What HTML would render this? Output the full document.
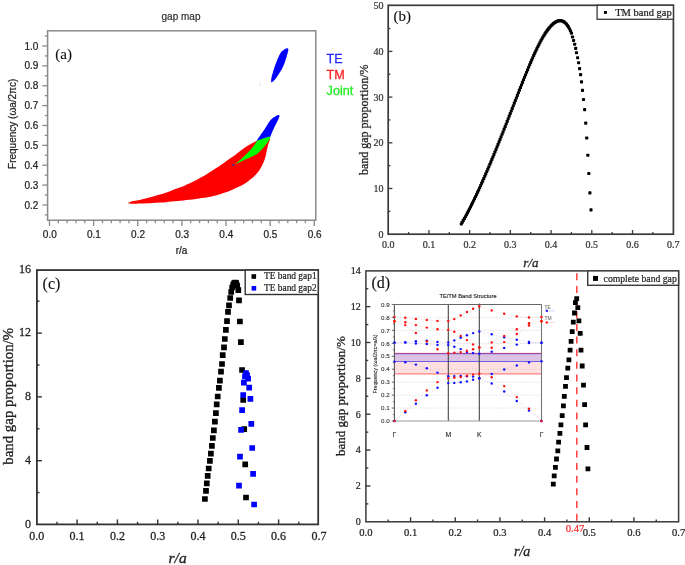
<!DOCTYPE html>
<html><head><meta charset="utf-8"><title>gap map</title>
<style>
html,body{margin:0;padding:0;background:#fff;overflow:hidden}
svg{display:block}
text{white-space:pre}
</style></head>
<body>
<svg width="685" height="565" viewBox="0 0 685 565">
<rect width="685" height="565" fill="#fff"/>
<text x="181" y="20.1" font-size="10" font-family="'Liberation Sans', Arial, sans-serif" fill="#333" stroke="#333" stroke-width="0.22" text-anchor="middle" >gap map</text>
<path d="M127.9 202.9C128.38 202.7 129.33 202.08 130.8 201.7C132.27 201.32 134.75 201.02 136.7 200.6C138.65 200.18 140.55 199.67 142.5 199.2C144.45 198.73 146.45 198.3 148.4 197.8C150.35 197.3 152.27 196.73 154.2 196.2C156.13 195.67 158.07 195.17 160 194.6C161.93 194.03 163.85 193.48 165.8 192.8C167.75 192.12 169.75 191.25 171.7 190.5C173.65 189.75 175.55 189.02 177.5 188.3C179.45 187.58 181.45 186.98 183.4 186.2C185.35 185.42 187.27 184.5 189.2 183.6C191.13 182.7 193.07 181.8 195 180.8C196.93 179.8 198.85 178.7 200.8 177.6C202.75 176.5 204.75 175.38 206.7 174.2C208.65 173.02 210.55 171.73 212.5 170.5C214.45 169.27 216.45 168.08 218.4 166.8C220.35 165.52 222.27 164.17 224.2 162.8C226.13 161.43 228.02 160.03 230 158.6C231.98 157.17 234.05 155.7 236.1 154.2C238.15 152.7 240.25 151.08 242.3 149.6C244.35 148.12 246.37 146.58 248.4 145.3C250.43 144.02 252.9 142.72 254.5 141.9C256.1 141.08 256.58 140.8 258 140.4C259.42 140 261.23 139.73 263 139.5C264.77 139.27 267.4 139.05 268.6 139C269.8 138.95 269.93 139.17 270.2 139.2C270.15 139.33 270.27 138.98 269.9 140C269.53 141.02 268.52 143.5 268 145.3C267.48 147.1 267.2 148.97 266.8 150.8C266.4 152.63 266.02 154.7 265.6 156.3C265.18 157.9 264.8 159.08 264.3 160.4C263.8 161.72 263.15 163.03 262.6 164.2C262.05 165.37 261.57 166.37 261 167.4C260.43 168.43 259.9 169.37 259.2 170.4C258.5 171.43 257.7 172.55 256.8 173.6C255.9 174.65 254.9 175.7 253.8 176.7C252.7 177.7 251.3 178.73 250.2 179.6C249.1 180.47 248.35 181.1 247.2 181.9C246.05 182.7 244.7 183.6 243.3 184.4C241.9 185.2 240.28 185.98 238.8 186.7C237.32 187.42 235.87 188.03 234.4 188.7C232.93 189.37 231.57 190.05 230 190.7C228.43 191.35 226.8 191.97 225 192.6C223.2 193.23 221.13 193.93 219.2 194.5C217.27 195.07 215.35 195.55 213.4 196C211.45 196.45 209.45 196.85 207.5 197.2C205.55 197.55 203.65 197.82 201.7 198.1C199.75 198.38 197.88 198.63 195.8 198.9C193.72 199.17 191.27 199.45 189.2 199.7C187.13 199.95 185.35 200.18 183.4 200.4C181.45 200.62 179.45 200.8 177.5 201C175.55 201.2 173.65 201.4 171.7 201.6C169.75 201.8 167.75 202.03 165.8 202.2C163.85 202.37 162.23 202.47 160 202.6C157.77 202.73 155.32 202.83 152.4 203C149.48 203.17 145.57 203.48 142.5 203.6C139.43 203.72 136.17 203.73 134 203.7C131.83 203.67 130.52 203.53 129.5 203.4C128.48 203.27 128.17 202.98 127.9 202.9Z" fill="#ff0000"/>
<path d="M256.6 141.2C256.73 140.93 256.67 140.75 257.4 139.6C258.13 138.45 259.75 136.12 261 134.3C262.25 132.48 263.72 130.52 264.9 128.7C266.08 126.88 267.12 124.88 268.1 123.4C269.08 121.92 269.77 120.87 270.8 119.8C271.83 118.73 273.17 117.77 274.3 117C275.43 116.23 276.82 115.53 277.6 115.2C278.38 114.87 278.77 115.03 279 115C279.07 115.23 279.75 115.18 279.4 116.4C279.05 117.62 277.85 120.25 276.9 122.3C275.95 124.35 274.75 126.43 273.7 128.7C272.65 130.97 271.23 134.25 270.6 135.9C269.97 137.55 270.02 138.15 269.9 138.6Z" fill="#0000ff"/>
<circle cx="233.3" cy="165.1" r="1" fill="#3030c0"/>
<path d="M233.1 165.1C233.82 164.62 235.87 163.38 237.4 162.2C238.93 161.02 240.47 159.7 242.3 158C244.13 156.3 246.57 153.92 248.4 152C250.23 150.08 251.93 148.27 253.3 146.5C254.67 144.73 255.93 142.42 256.6 141.4C257.27 140.38 257.18 140.57 257.3 140.4L269.2 136.4L270.2 137.6C270.1 137.87 270.17 138.2 269.6 139.2C269.03 140.2 267.8 142.2 266.8 143.6C265.8 145 264.62 146.43 263.6 147.6C262.58 148.77 261.68 149.63 260.7 150.6C259.72 151.57 258.73 152.62 257.7 153.4C256.67 154.18 256.05 154.48 254.5 155.3C252.95 156.12 250.43 157.37 248.4 158.3C246.37 159.23 244.13 160.08 242.3 160.9C240.47 161.72 238.93 162.5 237.4 163.2C235.87 163.9 233.82 164.78 233.1 165.1Z" fill="#00ff00"/>
<circle cx="260" cy="84.6" r="1.1" fill="#d4f4d4"/>
<path d="M271.1 82.4C271.15 81.67 271.03 79.9 271.4 78C271.77 76.1 272.47 73.65 273.3 71C274.13 68.35 275.25 65 276.4 62.1C277.55 59.2 279.02 55.6 280.2 53.6C281.38 51.6 282.45 50.98 283.5 50.1C284.55 49.22 285.75 48.57 286.5 48.3C287.25 48.03 287.75 48.47 288 48.5C288.05 48.78 288.6 48.62 288.3 50.2C288 51.78 287.08 55.23 286.2 58C285.32 60.77 284.33 63.97 283 66.8C281.67 69.63 279.77 72.63 278.2 75C276.63 77.37 274.78 79.77 273.6 81C272.42 82.23 271.52 82.17 271.1 82.4Z" fill="#0000ff"/>
<rect x="47.6" y="30.8" width="268.2" height="189.4" fill="none" stroke="#8a8a8a" stroke-width="1.5"/>
<line x1="42.3" y1="204.96" x2="47.6" y2="204.96" stroke="#8a8a8a" stroke-width="1.3" />
<text x="38.3" y="208.56" font-size="10" font-family="'Liberation Sans', Arial, sans-serif" fill="#222" stroke="#222" stroke-width="0.22" text-anchor="end" >0.2</text>
<line x1="42.3" y1="185.09" x2="47.6" y2="185.09" stroke="#8a8a8a" stroke-width="1.3" />
<text x="38.3" y="188.69" font-size="10" font-family="'Liberation Sans', Arial, sans-serif" fill="#222" stroke="#222" stroke-width="0.22" text-anchor="end" >0.3</text>
<line x1="42.3" y1="165.22" x2="47.6" y2="165.22" stroke="#8a8a8a" stroke-width="1.3" />
<text x="38.3" y="168.82" font-size="10" font-family="'Liberation Sans', Arial, sans-serif" fill="#222" stroke="#222" stroke-width="0.22" text-anchor="end" >0.4</text>
<line x1="42.3" y1="145.35" x2="47.6" y2="145.35" stroke="#8a8a8a" stroke-width="1.3" />
<text x="38.3" y="148.95" font-size="10" font-family="'Liberation Sans', Arial, sans-serif" fill="#222" stroke="#222" stroke-width="0.22" text-anchor="end" >0.5</text>
<line x1="42.3" y1="125.48" x2="47.6" y2="125.48" stroke="#8a8a8a" stroke-width="1.3" />
<text x="38.3" y="129.08" font-size="10" font-family="'Liberation Sans', Arial, sans-serif" fill="#222" stroke="#222" stroke-width="0.22" text-anchor="end" >0.6</text>
<line x1="42.3" y1="105.61" x2="47.6" y2="105.61" stroke="#8a8a8a" stroke-width="1.3" />
<text x="38.3" y="109.21" font-size="10" font-family="'Liberation Sans', Arial, sans-serif" fill="#222" stroke="#222" stroke-width="0.22" text-anchor="end" >0.7</text>
<line x1="42.3" y1="85.74" x2="47.6" y2="85.74" stroke="#8a8a8a" stroke-width="1.3" />
<text x="38.3" y="89.34" font-size="10" font-family="'Liberation Sans', Arial, sans-serif" fill="#222" stroke="#222" stroke-width="0.22" text-anchor="end" >0.8</text>
<line x1="42.3" y1="65.87" x2="47.6" y2="65.87" stroke="#8a8a8a" stroke-width="1.3" />
<text x="38.3" y="69.47" font-size="10" font-family="'Liberation Sans', Arial, sans-serif" fill="#222" stroke="#222" stroke-width="0.22" text-anchor="end" >0.9</text>
<line x1="42.3" y1="46" x2="47.6" y2="46" stroke="#8a8a8a" stroke-width="1.3" />
<text x="38.3" y="49.6" font-size="10" font-family="'Liberation Sans', Arial, sans-serif" fill="#222" stroke="#222" stroke-width="0.22" text-anchor="end" >1.0</text>
<line x1="44.8" y1="214.89" x2="47.6" y2="214.89" stroke="#8a8a8a" stroke-width="1.3" />
<line x1="44.8" y1="195.02" x2="47.6" y2="195.02" stroke="#8a8a8a" stroke-width="1.3" />
<line x1="44.8" y1="175.16" x2="47.6" y2="175.16" stroke="#8a8a8a" stroke-width="1.3" />
<line x1="44.8" y1="155.28" x2="47.6" y2="155.28" stroke="#8a8a8a" stroke-width="1.3" />
<line x1="44.8" y1="135.41" x2="47.6" y2="135.41" stroke="#8a8a8a" stroke-width="1.3" />
<line x1="44.8" y1="115.54" x2="47.6" y2="115.54" stroke="#8a8a8a" stroke-width="1.3" />
<line x1="44.8" y1="95.67" x2="47.6" y2="95.67" stroke="#8a8a8a" stroke-width="1.3" />
<line x1="44.8" y1="75.8" x2="47.6" y2="75.8" stroke="#8a8a8a" stroke-width="1.3" />
<line x1="44.8" y1="55.93" x2="47.6" y2="55.93" stroke="#8a8a8a" stroke-width="1.3" />
<line x1="44.8" y1="36.06" x2="47.6" y2="36.06" stroke="#8a8a8a" stroke-width="1.3" />
<line x1="49.5" y1="220.2" x2="49.5" y2="226" stroke="#8a8a8a" stroke-width="1.3" />
<text x="49.8" y="237.6" font-size="10" font-family="'Liberation Sans', Arial, sans-serif" fill="#222" stroke="#222" stroke-width="0.22" text-anchor="middle" >0.0</text>
<line x1="93.63" y1="220.2" x2="93.63" y2="226" stroke="#8a8a8a" stroke-width="1.3" />
<text x="93.93" y="237.6" font-size="10" font-family="'Liberation Sans', Arial, sans-serif" fill="#222" stroke="#222" stroke-width="0.22" text-anchor="middle" >0.1</text>
<line x1="137.76" y1="220.2" x2="137.76" y2="226" stroke="#8a8a8a" stroke-width="1.3" />
<text x="138.06" y="237.6" font-size="10" font-family="'Liberation Sans', Arial, sans-serif" fill="#222" stroke="#222" stroke-width="0.22" text-anchor="middle" >0.2</text>
<line x1="181.89" y1="220.2" x2="181.89" y2="226" stroke="#8a8a8a" stroke-width="1.3" />
<text x="182.19" y="237.6" font-size="10" font-family="'Liberation Sans', Arial, sans-serif" fill="#222" stroke="#222" stroke-width="0.22" text-anchor="middle" >0.3</text>
<line x1="226.02" y1="220.2" x2="226.02" y2="226" stroke="#8a8a8a" stroke-width="1.3" />
<text x="226.32" y="237.6" font-size="10" font-family="'Liberation Sans', Arial, sans-serif" fill="#222" stroke="#222" stroke-width="0.22" text-anchor="middle" >0.4</text>
<line x1="270.15" y1="220.2" x2="270.15" y2="226" stroke="#8a8a8a" stroke-width="1.3" />
<text x="270.45" y="237.6" font-size="10" font-family="'Liberation Sans', Arial, sans-serif" fill="#222" stroke="#222" stroke-width="0.22" text-anchor="middle" >0.5</text>
<line x1="314.28" y1="220.2" x2="314.28" y2="226" stroke="#8a8a8a" stroke-width="1.3" />
<text x="314.58" y="237.6" font-size="10" font-family="'Liberation Sans', Arial, sans-serif" fill="#222" stroke="#222" stroke-width="0.22" text-anchor="middle" >0.6</text>
<line x1="58.33" y1="220.2" x2="58.33" y2="223.2" stroke="#8a8a8a" stroke-width="1.3" />
<line x1="67.15" y1="220.2" x2="67.15" y2="223.2" stroke="#8a8a8a" stroke-width="1.3" />
<line x1="75.98" y1="220.2" x2="75.98" y2="223.2" stroke="#8a8a8a" stroke-width="1.3" />
<line x1="84.8" y1="220.2" x2="84.8" y2="223.2" stroke="#8a8a8a" stroke-width="1.3" />
<line x1="102.46" y1="220.2" x2="102.46" y2="223.2" stroke="#8a8a8a" stroke-width="1.3" />
<line x1="111.28" y1="220.2" x2="111.28" y2="223.2" stroke="#8a8a8a" stroke-width="1.3" />
<line x1="120.11" y1="220.2" x2="120.11" y2="223.2" stroke="#8a8a8a" stroke-width="1.3" />
<line x1="128.93" y1="220.2" x2="128.93" y2="223.2" stroke="#8a8a8a" stroke-width="1.3" />
<line x1="146.59" y1="220.2" x2="146.59" y2="223.2" stroke="#8a8a8a" stroke-width="1.3" />
<line x1="155.41" y1="220.2" x2="155.41" y2="223.2" stroke="#8a8a8a" stroke-width="1.3" />
<line x1="164.24" y1="220.2" x2="164.24" y2="223.2" stroke="#8a8a8a" stroke-width="1.3" />
<line x1="173.06" y1="220.2" x2="173.06" y2="223.2" stroke="#8a8a8a" stroke-width="1.3" />
<line x1="190.72" y1="220.2" x2="190.72" y2="223.2" stroke="#8a8a8a" stroke-width="1.3" />
<line x1="199.54" y1="220.2" x2="199.54" y2="223.2" stroke="#8a8a8a" stroke-width="1.3" />
<line x1="208.37" y1="220.2" x2="208.37" y2="223.2" stroke="#8a8a8a" stroke-width="1.3" />
<line x1="217.19" y1="220.2" x2="217.19" y2="223.2" stroke="#8a8a8a" stroke-width="1.3" />
<line x1="234.85" y1="220.2" x2="234.85" y2="223.2" stroke="#8a8a8a" stroke-width="1.3" />
<line x1="243.67" y1="220.2" x2="243.67" y2="223.2" stroke="#8a8a8a" stroke-width="1.3" />
<line x1="252.5" y1="220.2" x2="252.5" y2="223.2" stroke="#8a8a8a" stroke-width="1.3" />
<line x1="261.32" y1="220.2" x2="261.32" y2="223.2" stroke="#8a8a8a" stroke-width="1.3" />
<line x1="278.98" y1="220.2" x2="278.98" y2="223.2" stroke="#8a8a8a" stroke-width="1.3" />
<line x1="287.8" y1="220.2" x2="287.8" y2="223.2" stroke="#8a8a8a" stroke-width="1.3" />
<line x1="296.63" y1="220.2" x2="296.63" y2="223.2" stroke="#8a8a8a" stroke-width="1.3" />
<line x1="305.45" y1="220.2" x2="305.45" y2="223.2" stroke="#8a8a8a" stroke-width="1.3" />
<text x="181.6" y="253.6" font-size="10" font-family="'Liberation Sans', Arial, sans-serif" fill="#222" stroke="#222" stroke-width="0.22" text-anchor="middle" >r/a</text>
<text x="0" y="0" font-size="10" font-family="'Liberation Sans', Arial, sans-serif" fill="#222" stroke="#222" stroke-width="0.22" text-anchor="middle" transform="translate(16.2,123.8) rotate(-90)">Frequency (ωa/2πc)</text>
<text x="55.3" y="59.1" font-size="15" font-family="'Liberation Serif', 'Times New Roman', serif" fill="#111" stroke="#111" stroke-width="0.12" text-anchor="start" >(a)</text>
<text x="326.6" y="63.1" font-size="12.6" font-family="'Liberation Sans', Arial, sans-serif" fill="#2323ff" stroke="#2323ff" stroke-width="0.28" text-anchor="start" >TE</text>
<text x="326.6" y="78.8" font-size="12.6" font-family="'Liberation Sans', Arial, sans-serif" fill="#ff2020" stroke="#ff2020" stroke-width="0.28" text-anchor="start" >TM</text>
<text x="326.6" y="94.7" font-size="12.6" font-family="'Liberation Sans', Arial, sans-serif" fill="#22ee22" stroke="#22ee22" stroke-width="0.28" text-anchor="start" >Joint</text>
<g fill="#000"><rect x="459.75" y="222.4" width="3.1" height="3.1" rx="0.7"/><rect x="460.77" y="220.63" width="3.1" height="3.1" rx="0.7"/><rect x="461.79" y="218.83" width="3.1" height="3.1" rx="0.7"/><rect x="462.81" y="217" width="3.1" height="3.1" rx="0.7"/><rect x="463.83" y="215.14" width="3.1" height="3.1" rx="0.7"/><rect x="464.85" y="213.25" width="3.1" height="3.1" rx="0.7"/><rect x="465.87" y="211.33" width="3.1" height="3.1" rx="0.7"/><rect x="466.89" y="209.38" width="3.1" height="3.1" rx="0.7"/><rect x="467.91" y="207.4" width="3.1" height="3.1" rx="0.7"/><rect x="468.93" y="205.39" width="3.1" height="3.1" rx="0.7"/><rect x="469.95" y="203.35" width="3.1" height="3.1" rx="0.7"/><rect x="470.97" y="201.29" width="3.1" height="3.1" rx="0.7"/><rect x="471.99" y="199.2" width="3.1" height="3.1" rx="0.7"/><rect x="473.01" y="197.09" width="3.1" height="3.1" rx="0.7"/><rect x="474.03" y="194.95" width="3.1" height="3.1" rx="0.7"/><rect x="475.05" y="192.78" width="3.1" height="3.1" rx="0.7"/><rect x="476.07" y="190.59" width="3.1" height="3.1" rx="0.7"/><rect x="477.09" y="188.38" width="3.1" height="3.1" rx="0.7"/><rect x="478.11" y="186.15" width="3.1" height="3.1" rx="0.7"/><rect x="479.13" y="183.9" width="3.1" height="3.1" rx="0.7"/><rect x="480.15" y="181.62" width="3.1" height="3.1" rx="0.7"/><rect x="481.17" y="179.33" width="3.1" height="3.1" rx="0.7"/><rect x="482.19" y="177.01" width="3.1" height="3.1" rx="0.7"/><rect x="483.21" y="174.68" width="3.1" height="3.1" rx="0.7"/><rect x="484.23" y="172.33" width="3.1" height="3.1" rx="0.7"/><rect x="485.25" y="169.96" width="3.1" height="3.1" rx="0.7"/><rect x="486.27" y="167.57" width="3.1" height="3.1" rx="0.7"/><rect x="487.29" y="165.16" width="3.1" height="3.1" rx="0.7"/><rect x="488.31" y="162.74" width="3.1" height="3.1" rx="0.7"/><rect x="489.33" y="160.31" width="3.1" height="3.1" rx="0.7"/><rect x="490.35" y="157.86" width="3.1" height="3.1" rx="0.7"/><rect x="491.37" y="155.4" width="3.1" height="3.1" rx="0.7"/><rect x="492.39" y="152.92" width="3.1" height="3.1" rx="0.7"/><rect x="493.41" y="150.43" width="3.1" height="3.1" rx="0.7"/><rect x="494.43" y="147.93" width="3.1" height="3.1" rx="0.7"/><rect x="495.45" y="145.42" width="3.1" height="3.1" rx="0.7"/><rect x="496.47" y="142.89" width="3.1" height="3.1" rx="0.7"/><rect x="497.49" y="140.36" width="3.1" height="3.1" rx="0.7"/><rect x="498.51" y="137.82" width="3.1" height="3.1" rx="0.7"/><rect x="499.53" y="135.27" width="3.1" height="3.1" rx="0.7"/><rect x="500.55" y="132.71" width="3.1" height="3.1" rx="0.7"/><rect x="501.57" y="130.14" width="3.1" height="3.1" rx="0.7"/><rect x="502.59" y="127.57" width="3.1" height="3.1" rx="0.7"/><rect x="503.61" y="124.99" width="3.1" height="3.1" rx="0.7"/><rect x="504.63" y="122.4" width="3.1" height="3.1" rx="0.7"/><rect x="505.65" y="119.81" width="3.1" height="3.1" rx="0.7"/><rect x="506.67" y="117.22" width="3.1" height="3.1" rx="0.7"/><rect x="507.69" y="114.62" width="3.1" height="3.1" rx="0.7"/><rect x="508.71" y="112.02" width="3.1" height="3.1" rx="0.7"/><rect x="509.73" y="109.42" width="3.1" height="3.1" rx="0.7"/><rect x="510.75" y="106.82" width="3.1" height="3.1" rx="0.7"/><rect x="511.77" y="104.21" width="3.1" height="3.1" rx="0.7"/><rect x="512.79" y="101.61" width="3.1" height="3.1" rx="0.7"/><rect x="513.81" y="99" width="3.1" height="3.1" rx="0.7"/><rect x="514.83" y="96.4" width="3.1" height="3.1" rx="0.7"/><rect x="515.85" y="93.79" width="3.1" height="3.1" rx="0.7"/><rect x="516.87" y="91.19" width="3.1" height="3.1" rx="0.7"/><rect x="517.89" y="88.6" width="3.1" height="3.1" rx="0.7"/><rect x="518.91" y="86" width="3.1" height="3.1" rx="0.7"/><rect x="519.93" y="83.42" width="3.1" height="3.1" rx="0.7"/><rect x="520.95" y="80.84" width="3.1" height="3.1" rx="0.7"/><rect x="521.97" y="78.27" width="3.1" height="3.1" rx="0.7"/><rect x="522.99" y="75.71" width="3.1" height="3.1" rx="0.7"/><rect x="524.01" y="73.18" width="3.1" height="3.1" rx="0.7"/><rect x="525.03" y="70.66" width="3.1" height="3.1" rx="0.7"/><rect x="526.05" y="68.16" width="3.1" height="3.1" rx="0.7"/><rect x="527.07" y="65.7" width="3.1" height="3.1" rx="0.7"/><rect x="528.09" y="63.26" width="3.1" height="3.1" rx="0.7"/><rect x="529.11" y="60.85" width="3.1" height="3.1" rx="0.7"/><rect x="530.13" y="58.48" width="3.1" height="3.1" rx="0.7"/><rect x="531.15" y="56.15" width="3.1" height="3.1" rx="0.7"/><rect x="532.17" y="53.86" width="3.1" height="3.1" rx="0.7"/><rect x="533.19" y="51.62" width="3.1" height="3.1" rx="0.7"/><rect x="534.21" y="49.42" width="3.1" height="3.1" rx="0.7"/><rect x="535.23" y="47.28" width="3.1" height="3.1" rx="0.7"/><rect x="536.25" y="45.18" width="3.1" height="3.1" rx="0.7"/><rect x="537.27" y="43.15" width="3.1" height="3.1" rx="0.7"/><rect x="538.29" y="41.17" width="3.1" height="3.1" rx="0.7"/><rect x="539.31" y="39.26" width="3.1" height="3.1" rx="0.7"/><rect x="540.33" y="37.41" width="3.1" height="3.1" rx="0.7"/><rect x="541.35" y="35.64" width="3.1" height="3.1" rx="0.7"/><rect x="542.37" y="33.93" width="3.1" height="3.1" rx="0.7"/><rect x="543.39" y="32.3" width="3.1" height="3.1" rx="0.7"/><rect x="544.41" y="30.75" width="3.1" height="3.1" rx="0.7"/><rect x="545.43" y="29.28" width="3.1" height="3.1" rx="0.7"/><rect x="546.45" y="27.89" width="3.1" height="3.1" rx="0.7"/><rect x="547.47" y="26.59" width="3.1" height="3.1" rx="0.7"/><rect x="548.49" y="25.38" width="3.1" height="3.1" rx="0.7"/><rect x="549.51" y="24.26" width="3.1" height="3.1" rx="0.7"/><rect x="550.53" y="23.25" width="3.1" height="3.1" rx="0.7"/><rect x="551.55" y="22.33" width="3.1" height="3.1" rx="0.7"/><rect x="552.57" y="21.51" width="3.1" height="3.1" rx="0.7"/><rect x="553.59" y="20.8" width="3.1" height="3.1" rx="0.7"/><rect x="554.61" y="20.19" width="3.1" height="3.1" rx="0.7"/><rect x="555.63" y="19.71" width="3.1" height="3.1" rx="0.7"/><rect x="556.65" y="19.35" width="3.1" height="3.1" rx="0.7"/><rect x="557.67" y="19.14" width="3.1" height="3.1" rx="0.7"/><rect x="558.69" y="19.07" width="3.1" height="3.1" rx="0.7"/><rect x="559.71" y="19.17" width="3.1" height="3.1" rx="0.7"/><rect x="560.73" y="19.44" width="3.1" height="3.1" rx="0.7"/><rect x="561.75" y="19.9" width="3.1" height="3.1" rx="0.7"/><rect x="562.77" y="20.55" width="3.1" height="3.1" rx="0.7"/><rect x="563.79" y="21.42" width="3.1" height="3.1" rx="0.7"/><rect x="564.81" y="22.5" width="3.1" height="3.1" rx="0.7"/><rect x="565.83" y="23.81" width="3.1" height="3.1" rx="0.7"/><rect x="566.85" y="25.37" width="3.1" height="3.1" rx="0.7"/><rect x="567.87" y="27.18" width="3.1" height="3.1" rx="0.7"/><rect x="568.89" y="29.26" width="3.1" height="3.1" rx="0.7"/><rect x="569.91" y="31.62" width="3.1" height="3.1" rx="0.7"/><rect x="570.95" y="35.45" width="3.1" height="3.1" rx="0.7"/><rect x="572.05" y="38.95" width="3.1" height="3.1" rx="0.7"/><rect x="573.05" y="42.65" width="3.1" height="3.1" rx="0.7"/><rect x="574.15" y="46.85" width="3.1" height="3.1" rx="0.7"/><rect x="574.95" y="51.15" width="3.1" height="3.1" rx="0.7"/><rect x="576.05" y="56.15" width="3.1" height="3.1" rx="0.7"/><rect x="577.05" y="61.15" width="3.1" height="3.1" rx="0.7"/><rect x="578.05" y="67.05" width="3.1" height="3.1" rx="0.7"/><rect x="579.05" y="73.05" width="3.1" height="3.1" rx="0.7"/><rect x="579.95" y="80.35" width="3.1" height="3.1" rx="0.7"/><rect x="580.95" y="88.85" width="3.1" height="3.1" rx="0.7"/><rect x="581.95" y="97.95" width="3.1" height="3.1" rx="0.7"/><rect x="583.05" y="108.05" width="3.1" height="3.1" rx="0.7"/><rect x="584.15" y="121.55" width="3.1" height="3.1" rx="0.7"/><rect x="585.15" y="136.45" width="3.1" height="3.1" rx="0.7"/><rect x="586.25" y="153.65" width="3.1" height="3.1" rx="0.7"/><rect x="587.25" y="171.95" width="3.1" height="3.1" rx="0.7"/><rect x="588.35" y="191.35" width="3.1" height="3.1" rx="0.7"/><rect x="589.45" y="208.35" width="3.1" height="3.1" rx="0.7"/></g>
<rect x="388.2" y="5.3" width="285.2" height="228.9" fill="none" stroke="#3a3a3a" stroke-width="1.7"/>
<text x="383.6" y="237.6" font-size="10" font-family="'Liberation Serif', 'Times New Roman', serif" fill="#333" stroke="#333" stroke-width="0.22" text-anchor="end" >0</text>
<line x1="388.2" y1="188.5" x2="392.4" y2="188.5" stroke="#3a3a3a" stroke-width="1.3" />
<text x="383.6" y="191.9" font-size="10" font-family="'Liberation Serif', 'Times New Roman', serif" fill="#333" stroke="#333" stroke-width="0.22" text-anchor="end" >10</text>
<line x1="388.2" y1="142.8" x2="392.4" y2="142.8" stroke="#3a3a3a" stroke-width="1.3" />
<text x="383.6" y="146.2" font-size="10" font-family="'Liberation Serif', 'Times New Roman', serif" fill="#333" stroke="#333" stroke-width="0.22" text-anchor="end" >20</text>
<line x1="388.2" y1="97.1" x2="392.4" y2="97.1" stroke="#3a3a3a" stroke-width="1.3" />
<text x="383.6" y="100.5" font-size="10" font-family="'Liberation Serif', 'Times New Roman', serif" fill="#333" stroke="#333" stroke-width="0.22" text-anchor="end" >30</text>
<line x1="388.2" y1="51.4" x2="392.4" y2="51.4" stroke="#3a3a3a" stroke-width="1.3" />
<text x="383.6" y="54.8" font-size="10" font-family="'Liberation Serif', 'Times New Roman', serif" fill="#333" stroke="#333" stroke-width="0.22" text-anchor="end" >40</text>
<text x="383.6" y="9.1" font-size="10" font-family="'Liberation Serif', 'Times New Roman', serif" fill="#333" stroke="#333" stroke-width="0.22" text-anchor="end" >50</text>
<line x1="388.2" y1="211.35" x2="390.4" y2="211.35" stroke="#3a3a3a" stroke-width="1.3" />
<line x1="388.2" y1="165.65" x2="390.4" y2="165.65" stroke="#3a3a3a" stroke-width="1.3" />
<line x1="388.2" y1="119.95" x2="390.4" y2="119.95" stroke="#3a3a3a" stroke-width="1.3" />
<line x1="388.2" y1="74.25" x2="390.4" y2="74.25" stroke="#3a3a3a" stroke-width="1.3" />
<line x1="388.2" y1="28.55" x2="390.4" y2="28.55" stroke="#3a3a3a" stroke-width="1.3" />
<text x="388.2" y="248.4" font-size="10" font-family="'Liberation Serif', 'Times New Roman', serif" fill="#333" stroke="#333" stroke-width="0.22" text-anchor="middle" >0.0</text>
<line x1="428.92" y1="234.2" x2="428.92" y2="230" stroke="#3a3a3a" stroke-width="1.3" />
<text x="428.92" y="248.4" font-size="10" font-family="'Liberation Serif', 'Times New Roman', serif" fill="#333" stroke="#333" stroke-width="0.22" text-anchor="middle" >0.1</text>
<line x1="469.64" y1="234.2" x2="469.64" y2="230" stroke="#3a3a3a" stroke-width="1.3" />
<text x="469.64" y="248.4" font-size="10" font-family="'Liberation Serif', 'Times New Roman', serif" fill="#333" stroke="#333" stroke-width="0.22" text-anchor="middle" >0.2</text>
<line x1="510.36" y1="234.2" x2="510.36" y2="230" stroke="#3a3a3a" stroke-width="1.3" />
<text x="510.36" y="248.4" font-size="10" font-family="'Liberation Serif', 'Times New Roman', serif" fill="#333" stroke="#333" stroke-width="0.22" text-anchor="middle" >0.3</text>
<line x1="551.08" y1="234.2" x2="551.08" y2="230" stroke="#3a3a3a" stroke-width="1.3" />
<text x="551.08" y="248.4" font-size="10" font-family="'Liberation Serif', 'Times New Roman', serif" fill="#333" stroke="#333" stroke-width="0.22" text-anchor="middle" >0.4</text>
<line x1="591.8" y1="234.2" x2="591.8" y2="230" stroke="#3a3a3a" stroke-width="1.3" />
<text x="591.8" y="248.4" font-size="10" font-family="'Liberation Serif', 'Times New Roman', serif" fill="#333" stroke="#333" stroke-width="0.22" text-anchor="middle" >0.5</text>
<line x1="632.52" y1="234.2" x2="632.52" y2="230" stroke="#3a3a3a" stroke-width="1.3" />
<text x="632.52" y="248.4" font-size="10" font-family="'Liberation Serif', 'Times New Roman', serif" fill="#333" stroke="#333" stroke-width="0.22" text-anchor="middle" >0.6</text>
<text x="673.24" y="248.4" font-size="10" font-family="'Liberation Serif', 'Times New Roman', serif" fill="#333" stroke="#333" stroke-width="0.22" text-anchor="middle" >0.7</text>
<line x1="408.56" y1="234.2" x2="408.56" y2="232" stroke="#3a3a3a" stroke-width="1.3" />
<line x1="449.28" y1="234.2" x2="449.28" y2="232" stroke="#3a3a3a" stroke-width="1.3" />
<line x1="490" y1="234.2" x2="490" y2="232" stroke="#3a3a3a" stroke-width="1.3" />
<line x1="530.72" y1="234.2" x2="530.72" y2="232" stroke="#3a3a3a" stroke-width="1.3" />
<line x1="571.44" y1="234.2" x2="571.44" y2="232" stroke="#3a3a3a" stroke-width="1.3" />
<line x1="612.16" y1="234.2" x2="612.16" y2="232" stroke="#3a3a3a" stroke-width="1.3" />
<line x1="652.88" y1="234.2" x2="652.88" y2="232" stroke="#3a3a3a" stroke-width="1.3" />
<text x="530.9" y="266.5" font-size="13" font-family="'Liberation Serif', 'Times New Roman', serif" fill="#222" stroke="#222" stroke-width="0.29" text-anchor="middle" font-style="italic">r/a</text>
<text x="0" y="0" font-size="12" font-family="'Liberation Serif', 'Times New Roman', serif" fill="#222" stroke="#222" stroke-width="0.26" text-anchor="middle" transform="translate(367.9,119.7) rotate(-90)">band gap proportion/%</text>
<text x="393.6" y="20.6" font-size="15" font-family="'Liberation Serif', 'Times New Roman', serif" fill="#111" stroke="#111" stroke-width="0.12" text-anchor="start" >(b)</text>
<rect x="597.1" y="5.3" width="76.3" height="14" fill="#fff" stroke="#3a3a3a" stroke-width="1.3"/>
<rect x="604" y="11" width="2.9" height="2.9" fill="#000" />
<text x="615.2" y="15.9" font-size="10.5" font-family="'Liberation Serif', 'Times New Roman', serif" fill="#222" stroke="#222" stroke-width="0.23" text-anchor="start" >TM band gap</text>
<path d="M202.05 496.15h5.7v5.7h-5.7zM203.15 488.05h5.7v5.7h-5.7zM203.95 480.55h5.7v5.7h-5.7zM204.85 472.95h5.7v5.7h-5.7zM205.85 465.65h5.7v5.7h-5.7zM207.05 458.05h5.7v5.7h-5.7zM208.05 450.85h5.7v5.7h-5.7zM209.05 443.05h5.7v5.7h-5.7zM209.95 435.15h5.7v5.7h-5.7zM211.05 427.55h5.7v5.7h-5.7zM212.05 418.85h5.7v5.7h-5.7zM213.05 410.35h5.7v5.7h-5.7zM213.85 401.45h5.7v5.7h-5.7zM214.85 393.65h5.7v5.7h-5.7zM216.05 385.05h5.7v5.7h-5.7zM217.05 377.75h5.7v5.7h-5.7zM218.15 368.75h5.7v5.7h-5.7zM219.15 361.15h5.7v5.7h-5.7zM219.85 352.35h5.7v5.7h-5.7zM221.15 344.55h5.7v5.7h-5.7zM221.95 336.15h5.7v5.7h-5.7zM223.05 327.05h5.7v5.7h-5.7zM224.15 318.25h5.7v5.7h-5.7zM225.15 309.05h5.7v5.7h-5.7zM226.15 302.45h5.7v5.7h-5.7zM227.35 295.15h5.7v5.7h-5.7zM228.35 289.15h5.7v5.7h-5.7zM229.35 284.65h5.7v5.7h-5.7zM230.35 281.65h5.7v5.7h-5.7zM231.35 280.15h5.7v5.7h-5.7zM232.35 279.65h5.7v5.7h-5.7zM233.35 280.35h5.7v5.7h-5.7zM234.35 282.65h5.7v5.7h-5.7zM235.45 287.35h5.7v5.7h-5.7zM236.15 297.45h5.7v5.7h-5.7zM237.05 318.65h5.7v5.7h-5.7zM238.05 339.25h5.7v5.7h-5.7zM239.2 367.15h5.7v5.7h-5.7zM240.35 397.15h5.7v5.7h-5.7zM241.35 426.35h5.7v5.7h-5.7zM242.35 461.45h5.7v5.7h-5.7zM243.15 494.65h5.7v5.7h-5.7z" fill="#000"/>
<path d="M236.15 482.85h5.7v5.7h-5.7zM237.15 453.75h5.7v5.7h-5.7zM238.25 426.95h5.7v5.7h-5.7zM239.25 407.35h5.7v5.7h-5.7zM240.35 392.15h5.7v5.7h-5.7zM241.05 379.75h5.7v5.7h-5.7zM242.15 373.45h5.7v5.7h-5.7zM243.15 370.35h5.7v5.7h-5.7zM244.25 372.55h5.7v5.7h-5.7zM245.25 375.85h5.7v5.7h-5.7zM246.35 384.85h5.7v5.7h-5.7zM247.55 396.05h5.7v5.7h-5.7zM248.45 420.95h5.7v5.7h-5.7zM249.35 445.15h5.7v5.7h-5.7zM250.25 470.95h5.7v5.7h-5.7zM251.25 501.65h5.7v5.7h-5.7z" fill="#0000ff"/>
<rect x="36.9" y="270.1" width="281.3" height="254.3" fill="none" stroke="#333" stroke-width="1.8"/>
<text x="30.9" y="527.8" font-size="12" font-family="'Liberation Serif', 'Times New Roman', serif" fill="#222" stroke="#222" stroke-width="0.26" text-anchor="end" >0</text>
<line x1="36.9" y1="460.7" x2="41.9" y2="460.7" stroke="#333" stroke-width="1.4" />
<text x="30.9" y="464" font-size="12" font-family="'Liberation Serif', 'Times New Roman', serif" fill="#222" stroke="#222" stroke-width="0.26" text-anchor="end" >4</text>
<line x1="36.9" y1="396.9" x2="41.9" y2="396.9" stroke="#333" stroke-width="1.4" />
<text x="30.9" y="400.2" font-size="12" font-family="'Liberation Serif', 'Times New Roman', serif" fill="#222" stroke="#222" stroke-width="0.26" text-anchor="end" >8</text>
<line x1="36.9" y1="333.1" x2="41.9" y2="333.1" stroke="#333" stroke-width="1.4" />
<text x="30.9" y="336.4" font-size="12" font-family="'Liberation Serif', 'Times New Roman', serif" fill="#222" stroke="#222" stroke-width="0.26" text-anchor="end" >12</text>
<text x="30.9" y="272.6" font-size="12" font-family="'Liberation Serif', 'Times New Roman', serif" fill="#222" stroke="#222" stroke-width="0.26" text-anchor="end" >16</text>
<line x1="36.9" y1="492.6" x2="39.5" y2="492.6" stroke="#333" stroke-width="1.4" />
<line x1="36.9" y1="428.8" x2="39.5" y2="428.8" stroke="#333" stroke-width="1.4" />
<line x1="36.9" y1="365" x2="39.5" y2="365" stroke="#333" stroke-width="1.4" />
<line x1="36.9" y1="301.2" x2="39.5" y2="301.2" stroke="#333" stroke-width="1.4" />
<text x="36.8" y="539.8" font-size="12" font-family="'Liberation Serif', 'Times New Roman', serif" fill="#222" stroke="#222" stroke-width="0.26" text-anchor="middle" >0.0</text>
<line x1="77.1" y1="524.4" x2="77.1" y2="519.4" stroke="#333" stroke-width="1.4" />
<text x="77.1" y="539.8" font-size="12" font-family="'Liberation Serif', 'Times New Roman', serif" fill="#222" stroke="#222" stroke-width="0.26" text-anchor="middle" >0.1</text>
<line x1="117.4" y1="524.4" x2="117.4" y2="519.4" stroke="#333" stroke-width="1.4" />
<text x="117.4" y="539.8" font-size="12" font-family="'Liberation Serif', 'Times New Roman', serif" fill="#222" stroke="#222" stroke-width="0.26" text-anchor="middle" >0.2</text>
<line x1="157.7" y1="524.4" x2="157.7" y2="519.4" stroke="#333" stroke-width="1.4" />
<text x="157.7" y="539.8" font-size="12" font-family="'Liberation Serif', 'Times New Roman', serif" fill="#222" stroke="#222" stroke-width="0.26" text-anchor="middle" >0.3</text>
<line x1="198" y1="524.4" x2="198" y2="519.4" stroke="#333" stroke-width="1.4" />
<text x="198" y="539.8" font-size="12" font-family="'Liberation Serif', 'Times New Roman', serif" fill="#222" stroke="#222" stroke-width="0.26" text-anchor="middle" >0.4</text>
<line x1="238.3" y1="524.4" x2="238.3" y2="519.4" stroke="#333" stroke-width="1.4" />
<text x="238.3" y="539.8" font-size="12" font-family="'Liberation Serif', 'Times New Roman', serif" fill="#222" stroke="#222" stroke-width="0.26" text-anchor="middle" >0.5</text>
<line x1="278.6" y1="524.4" x2="278.6" y2="519.4" stroke="#333" stroke-width="1.4" />
<text x="278.6" y="539.8" font-size="12" font-family="'Liberation Serif', 'Times New Roman', serif" fill="#222" stroke="#222" stroke-width="0.26" text-anchor="middle" >0.6</text>
<text x="318.9" y="539.8" font-size="12" font-family="'Liberation Serif', 'Times New Roman', serif" fill="#222" stroke="#222" stroke-width="0.26" text-anchor="middle" >0.7</text>
<line x1="56.95" y1="524.4" x2="56.95" y2="521.8" stroke="#333" stroke-width="1.4" />
<line x1="97.25" y1="524.4" x2="97.25" y2="521.8" stroke="#333" stroke-width="1.4" />
<line x1="137.55" y1="524.4" x2="137.55" y2="521.8" stroke="#333" stroke-width="1.4" />
<line x1="177.85" y1="524.4" x2="177.85" y2="521.8" stroke="#333" stroke-width="1.4" />
<line x1="218.15" y1="524.4" x2="218.15" y2="521.8" stroke="#333" stroke-width="1.4" />
<line x1="258.45" y1="524.4" x2="258.45" y2="521.8" stroke="#333" stroke-width="1.4" />
<line x1="298.75" y1="524.4" x2="298.75" y2="521.8" stroke="#333" stroke-width="1.4" />
<text x="177.6" y="563.1" font-size="15.5" font-family="'Liberation Serif', 'Times New Roman', serif" fill="#222" stroke="#222" stroke-width="0.34" text-anchor="middle" font-style="italic">r/a</text>
<text x="0" y="0" font-size="14.85" font-family="'Liberation Serif', 'Times New Roman', serif" fill="#222" stroke="#222" stroke-width="0.33" text-anchor="start" transform="translate(12.7,464.7) rotate(-90)">band gap proportion/%</text>
<text x="42.6" y="289" font-size="16" font-family="'Liberation Serif', 'Times New Roman', serif" fill="#111" stroke="#111" stroke-width="0.12" text-anchor="start" >(c)</text>
<rect x="245.2" y="270.1" width="73" height="24.4" fill="#fff" stroke="#333" stroke-width="1.4"/>
<rect x="251.5" y="274.2" width="4.6" height="4.6" fill="#000" />
<rect x="251.6" y="286" width="4.6" height="4.6" fill="#0000ff" />
<text x="264" y="279.4" font-size="9.4" font-family="'Liberation Serif', 'Times New Roman', serif" fill="#222" stroke="#222" stroke-width="0.21" text-anchor="start" >TE band gap1</text>
<text x="264" y="290.8" font-size="9.4" font-family="'Liberation Serif', 'Times New Roman', serif" fill="#222" stroke="#222" stroke-width="0.21" text-anchor="start" >TE band gap2</text>
<rect x="394.4" y="352.3" width="147.1" height="21.5" fill="#ffe0e0"/>
<rect x="394.4" y="353.9" width="147.1" height="7.6" fill="#dcc3e4"/>
<line x1="394.4" y1="408.05" x2="541.5" y2="408.05" stroke="#c8c8c8" stroke-width="0.8" stroke-dasharray="1 2"/>
<line x1="394.4" y1="395.1" x2="541.5" y2="395.1" stroke="#c8c8c8" stroke-width="0.8" stroke-dasharray="1 2"/>
<line x1="394.4" y1="382.15" x2="541.5" y2="382.15" stroke="#c8c8c8" stroke-width="0.8" stroke-dasharray="1 2"/>
<line x1="394.4" y1="369.2" x2="541.5" y2="369.2" stroke="#c8c8c8" stroke-width="0.8" stroke-dasharray="1 2"/>
<line x1="394.4" y1="356.25" x2="541.5" y2="356.25" stroke="#c8c8c8" stroke-width="0.8" stroke-dasharray="1 2"/>
<line x1="394.4" y1="343.3" x2="541.5" y2="343.3" stroke="#c8c8c8" stroke-width="0.8" stroke-dasharray="1 2"/>
<line x1="394.4" y1="330.35" x2="541.5" y2="330.35" stroke="#c8c8c8" stroke-width="0.8" stroke-dasharray="1 2"/>
<line x1="394.4" y1="317.4" x2="541.5" y2="317.4" stroke="#c8c8c8" stroke-width="0.8" stroke-dasharray="1 2"/>
<line x1="394.4" y1="353.5" x2="541.5" y2="353.5" stroke="#a8409a" stroke-width="1" />
<line x1="394.4" y1="373.9" x2="541.5" y2="373.9" stroke="#ff8080" stroke-width="1.1" />
<line x1="394.4" y1="354.4" x2="541.5" y2="354.4" stroke="#b8a0e4" stroke-width="0.8" />
<line x1="394.4" y1="361.5" x2="541.5" y2="361.5" stroke="#6e5ce6" stroke-width="1" />
<polyline points="394.4,421 405.3,412.2 415.9,403.8 426.8,395.2 437.5,387.7 448.3,383.1 454.3,382.9 460.7,382.3 466.9,381.4 473.1,379.8 479.3,378.3 491.7,383.5 504.2,391.5 516.8,401 529,410.6 541.5,421" fill="none" stroke="#8080ff" stroke-width="0.6" stroke-dasharray="1 1" opacity="0.4"/>
<polyline points="394.4,361.7 405.3,362.2 415.9,364.6 426.8,368.2 437.5,372.6 448.3,376.3 454.3,376.1 460.7,376 466.9,376.3 473.1,376.6 479.3,378.3 491.7,374 504.2,369.5 516.8,365.5 529,362.4 541.5,361.3" fill="none" stroke="#8080ff" stroke-width="0.6" stroke-dasharray="1 1" opacity="0.4"/>
<polyline points="394.4,342.8 405.3,342.6 415.9,343.5 426.8,344 437.5,344.9 448.3,345.1 454.3,346.7 460.7,349.1 466.9,352.1 473.1,353 479.3,353.8 491.7,351.7 504.2,347.9 516.8,344.6 529,343 541.5,342.8" fill="none" stroke="#8080ff" stroke-width="0.6" stroke-dasharray="1 1" opacity="0.4"/>
<polyline points="394.4,342.8 405.3,342.2 415.9,341.2 426.8,340.6 437.5,341.9 448.3,342.4 454.3,340.4 460.7,337.7 466.9,335.2 473.1,333.1 479.3,331.5 491.7,334.3 504.2,337.3 516.8,339.8 529,341.9 541.5,342.8" fill="none" stroke="#8080ff" stroke-width="0.6" stroke-dasharray="1 1" opacity="0.4"/>
<polyline points="394.4,421 405.3,410.9 415.9,400.2 426.8,390.4 437.5,382.1 448.3,378.3 454.3,377.8 460.7,377 466.9,375.8 473.1,374.6 479.3,373.8 491.7,377.3 504.2,386.1 516.8,397.1 529,408.8 541.5,421.1" fill="none" stroke="#ff8080" stroke-width="0.6" stroke-dasharray="1 1" opacity="0.4"/>
<polyline points="394.4,321.2 405.3,325.1 415.9,332.9 426.8,341.4 437.5,349.3 448.3,353.2 454.3,352.6 460.7,352.1 466.9,350.8 473.1,349.3 479.3,347.4 491.7,347.7 504.2,342.1 516.8,334 529,325.5 541.5,321.2" fill="none" stroke="#ff8080" stroke-width="0.6" stroke-dasharray="1 1" opacity="0.4"/>
<polyline points="394.4,321.2 405.3,322.3 415.9,325.1 426.8,327.6 437.5,329.2 448.3,329.9 454.3,331.8 460.7,335.9 466.9,340.1 473.1,344.4 479.3,347.4 491.7,342.4 504.2,335.9 516.8,329.2 529,323.3 541.5,321.2" fill="none" stroke="#ff8080" stroke-width="0.6" stroke-dasharray="1 1" opacity="0.4"/>
<polyline points="394.4,317 405.3,317.8 415.9,318.9 426.8,319.9 437.5,320.9 448.3,321 454.3,319.1 460.7,315.4 466.9,312 473.1,308.7 479.3,306.3 491.7,310.4 504.2,313.8 516.8,316.4 529,317.5 541.5,317" fill="none" stroke="#ff8080" stroke-width="0.6" stroke-dasharray="1 1" opacity="0.4"/>
<line x1="448.3" y1="304.5" x2="448.3" y2="421" stroke="#444" stroke-width="1.1" />
<line x1="479.3" y1="303.5" x2="479.3" y2="421" stroke="#444" stroke-width="1.1" />
<line x1="394.4" y1="304.5" x2="541.5" y2="304.5" stroke="#666" stroke-width="1.1" />
<line x1="541.5" y1="304.5" x2="541.5" y2="421" stroke="#777" stroke-width="1.1" />
<line x1="394.4" y1="421" x2="541.5" y2="421" stroke="#999" stroke-width="1.1" />
<line x1="394.4" y1="304.5" x2="394.4" y2="421" stroke="#555" stroke-width="1.1" />
<g fill="#1010ff"><circle cx="394.4" cy="421" r="1.22"/><circle cx="405.3" cy="412.2" r="1.22"/><circle cx="415.9" cy="403.8" r="1.22"/><circle cx="426.8" cy="395.2" r="1.22"/><circle cx="437.5" cy="387.7" r="1.22"/><circle cx="448.3" cy="383.1" r="1.22"/><circle cx="454.3" cy="382.9" r="1.22"/><circle cx="460.7" cy="382.3" r="1.22"/><circle cx="466.9" cy="381.4" r="1.22"/><circle cx="473.1" cy="379.8" r="1.22"/><circle cx="479.3" cy="378.3" r="1.22"/><circle cx="491.7" cy="383.5" r="1.22"/><circle cx="504.2" cy="391.5" r="1.22"/><circle cx="516.8" cy="401" r="1.22"/><circle cx="529" cy="410.6" r="1.22"/><circle cx="541.5" cy="421" r="1.22"/><circle cx="394.4" cy="361.7" r="1.22"/><circle cx="405.3" cy="362.2" r="1.22"/><circle cx="415.9" cy="364.6" r="1.22"/><circle cx="426.8" cy="368.2" r="1.22"/><circle cx="437.5" cy="372.6" r="1.22"/><circle cx="448.3" cy="376.3" r="1.22"/><circle cx="454.3" cy="376.1" r="1.22"/><circle cx="460.7" cy="376" r="1.22"/><circle cx="466.9" cy="376.3" r="1.22"/><circle cx="473.1" cy="376.6" r="1.22"/><circle cx="479.3" cy="378.3" r="1.22"/><circle cx="491.7" cy="374" r="1.22"/><circle cx="504.2" cy="369.5" r="1.22"/><circle cx="516.8" cy="365.5" r="1.22"/><circle cx="529" cy="362.4" r="1.22"/><circle cx="541.5" cy="361.3" r="1.22"/><circle cx="394.4" cy="342.8" r="1.22"/><circle cx="405.3" cy="342.6" r="1.22"/><circle cx="415.9" cy="343.5" r="1.22"/><circle cx="426.8" cy="344" r="1.22"/><circle cx="437.5" cy="344.9" r="1.22"/><circle cx="448.3" cy="345.1" r="1.22"/><circle cx="454.3" cy="346.7" r="1.22"/><circle cx="460.7" cy="349.1" r="1.22"/><circle cx="466.9" cy="352.1" r="1.22"/><circle cx="473.1" cy="353" r="1.22"/><circle cx="479.3" cy="353.8" r="1.22"/><circle cx="491.7" cy="351.7" r="1.22"/><circle cx="504.2" cy="347.9" r="1.22"/><circle cx="516.8" cy="344.6" r="1.22"/><circle cx="529" cy="343" r="1.22"/><circle cx="541.5" cy="342.8" r="1.22"/><circle cx="394.4" cy="342.8" r="1.22"/><circle cx="405.3" cy="342.2" r="1.22"/><circle cx="415.9" cy="341.2" r="1.22"/><circle cx="426.8" cy="340.6" r="1.22"/><circle cx="437.5" cy="341.9" r="1.22"/><circle cx="448.3" cy="342.4" r="1.22"/><circle cx="454.3" cy="340.4" r="1.22"/><circle cx="460.7" cy="337.7" r="1.22"/><circle cx="466.9" cy="335.2" r="1.22"/><circle cx="473.1" cy="333.1" r="1.22"/><circle cx="479.3" cy="331.5" r="1.22"/><circle cx="491.7" cy="334.3" r="1.22"/><circle cx="504.2" cy="337.3" r="1.22"/><circle cx="516.8" cy="339.8" r="1.22"/><circle cx="529" cy="341.9" r="1.22"/><circle cx="541.5" cy="342.8" r="1.22"/></g>
<g fill="#ff1010"><circle cx="394.4" cy="421" r="1.22"/><circle cx="405.3" cy="410.9" r="1.22"/><circle cx="415.9" cy="400.2" r="1.22"/><circle cx="426.8" cy="390.4" r="1.22"/><circle cx="437.5" cy="382.1" r="1.22"/><circle cx="448.3" cy="378.3" r="1.22"/><circle cx="454.3" cy="377.8" r="1.22"/><circle cx="460.7" cy="377" r="1.22"/><circle cx="466.9" cy="375.8" r="1.22"/><circle cx="473.1" cy="374.6" r="1.22"/><circle cx="479.3" cy="373.8" r="1.22"/><circle cx="491.7" cy="377.3" r="1.22"/><circle cx="504.2" cy="386.1" r="1.22"/><circle cx="516.8" cy="397.1" r="1.22"/><circle cx="529" cy="408.8" r="1.22"/><circle cx="541.5" cy="421.1" r="1.22"/><circle cx="394.4" cy="321.2" r="1.22"/><circle cx="405.3" cy="325.1" r="1.22"/><circle cx="415.9" cy="332.9" r="1.22"/><circle cx="426.8" cy="341.4" r="1.22"/><circle cx="437.5" cy="349.3" r="1.22"/><circle cx="448.3" cy="353.2" r="1.22"/><circle cx="454.3" cy="352.6" r="1.22"/><circle cx="460.7" cy="352.1" r="1.22"/><circle cx="466.9" cy="350.8" r="1.22"/><circle cx="473.1" cy="349.3" r="1.22"/><circle cx="479.3" cy="347.4" r="1.22"/><circle cx="491.7" cy="347.7" r="1.22"/><circle cx="504.2" cy="342.1" r="1.22"/><circle cx="516.8" cy="334" r="1.22"/><circle cx="529" cy="325.5" r="1.22"/><circle cx="541.5" cy="321.2" r="1.22"/><circle cx="394.4" cy="321.2" r="1.22"/><circle cx="405.3" cy="322.3" r="1.22"/><circle cx="415.9" cy="325.1" r="1.22"/><circle cx="426.8" cy="327.6" r="1.22"/><circle cx="437.5" cy="329.2" r="1.22"/><circle cx="448.3" cy="329.9" r="1.22"/><circle cx="454.3" cy="331.8" r="1.22"/><circle cx="460.7" cy="335.9" r="1.22"/><circle cx="466.9" cy="340.1" r="1.22"/><circle cx="473.1" cy="344.4" r="1.22"/><circle cx="479.3" cy="347.4" r="1.22"/><circle cx="491.7" cy="342.4" r="1.22"/><circle cx="504.2" cy="335.9" r="1.22"/><circle cx="516.8" cy="329.2" r="1.22"/><circle cx="529" cy="323.3" r="1.22"/><circle cx="541.5" cy="321.2" r="1.22"/><circle cx="394.4" cy="317" r="1.22"/><circle cx="405.3" cy="317.8" r="1.22"/><circle cx="415.9" cy="318.9" r="1.22"/><circle cx="426.8" cy="319.9" r="1.22"/><circle cx="437.5" cy="320.9" r="1.22"/><circle cx="448.3" cy="321" r="1.22"/><circle cx="454.3" cy="319.1" r="1.22"/><circle cx="460.7" cy="315.4" r="1.22"/><circle cx="466.9" cy="312" r="1.22"/><circle cx="473.1" cy="308.7" r="1.22"/><circle cx="479.3" cy="306.3" r="1.22"/><circle cx="491.7" cy="310.4" r="1.22"/><circle cx="504.2" cy="313.8" r="1.22"/><circle cx="516.8" cy="316.4" r="1.22"/><circle cx="529" cy="317.5" r="1.22"/><circle cx="541.5" cy="317" r="1.22"/></g>
<line x1="391.8" y1="421" x2="394.4" y2="421" stroke="#555" stroke-width="0.9" />
<text x="389.6" y="423.2" font-size="6.2" font-family="'Liberation Sans', Arial, sans-serif" fill="#3a3a3a" stroke="#3a3a3a" stroke-width="0.14" text-anchor="end" >0.0</text>
<line x1="391.8" y1="408.05" x2="394.4" y2="408.05" stroke="#555" stroke-width="0.9" />
<text x="389.6" y="410.25" font-size="6.2" font-family="'Liberation Sans', Arial, sans-serif" fill="#3a3a3a" stroke="#3a3a3a" stroke-width="0.14" text-anchor="end" >0.1</text>
<line x1="391.8" y1="395.1" x2="394.4" y2="395.1" stroke="#555" stroke-width="0.9" />
<text x="389.6" y="397.3" font-size="6.2" font-family="'Liberation Sans', Arial, sans-serif" fill="#3a3a3a" stroke="#3a3a3a" stroke-width="0.14" text-anchor="end" >0.2</text>
<line x1="391.8" y1="382.15" x2="394.4" y2="382.15" stroke="#555" stroke-width="0.9" />
<text x="389.6" y="384.35" font-size="6.2" font-family="'Liberation Sans', Arial, sans-serif" fill="#3a3a3a" stroke="#3a3a3a" stroke-width="0.14" text-anchor="end" >0.3</text>
<line x1="391.8" y1="369.2" x2="394.4" y2="369.2" stroke="#555" stroke-width="0.9" />
<text x="389.6" y="371.4" font-size="6.2" font-family="'Liberation Sans', Arial, sans-serif" fill="#3a3a3a" stroke="#3a3a3a" stroke-width="0.14" text-anchor="end" >0.4</text>
<line x1="391.8" y1="356.25" x2="394.4" y2="356.25" stroke="#555" stroke-width="0.9" />
<text x="389.6" y="358.45" font-size="6.2" font-family="'Liberation Sans', Arial, sans-serif" fill="#3a3a3a" stroke="#3a3a3a" stroke-width="0.14" text-anchor="end" >0.5</text>
<line x1="391.8" y1="343.3" x2="394.4" y2="343.3" stroke="#555" stroke-width="0.9" />
<text x="389.6" y="345.5" font-size="6.2" font-family="'Liberation Sans', Arial, sans-serif" fill="#3a3a3a" stroke="#3a3a3a" stroke-width="0.14" text-anchor="end" >0.6</text>
<line x1="391.8" y1="330.35" x2="394.4" y2="330.35" stroke="#555" stroke-width="0.9" />
<text x="389.6" y="332.55" font-size="6.2" font-family="'Liberation Sans', Arial, sans-serif" fill="#3a3a3a" stroke="#3a3a3a" stroke-width="0.14" text-anchor="end" >0.7</text>
<line x1="391.8" y1="317.4" x2="394.4" y2="317.4" stroke="#555" stroke-width="0.9" />
<text x="389.6" y="319.6" font-size="6.2" font-family="'Liberation Sans', Arial, sans-serif" fill="#3a3a3a" stroke="#3a3a3a" stroke-width="0.14" text-anchor="end" >0.8</text>
<line x1="391.8" y1="304.45" x2="394.4" y2="304.45" stroke="#555" stroke-width="0.9" />
<text x="389.6" y="306.65" font-size="6.2" font-family="'Liberation Sans', Arial, sans-serif" fill="#3a3a3a" stroke="#3a3a3a" stroke-width="0.14" text-anchor="end" >0.9</text>
<line x1="392.9" y1="414.52" x2="394.4" y2="414.52" stroke="#555" stroke-width="0.8" />
<line x1="392.9" y1="401.57" x2="394.4" y2="401.57" stroke="#555" stroke-width="0.8" />
<line x1="392.9" y1="388.62" x2="394.4" y2="388.62" stroke="#555" stroke-width="0.8" />
<line x1="392.9" y1="375.68" x2="394.4" y2="375.68" stroke="#555" stroke-width="0.8" />
<line x1="392.9" y1="362.73" x2="394.4" y2="362.73" stroke="#555" stroke-width="0.8" />
<line x1="392.9" y1="349.77" x2="394.4" y2="349.77" stroke="#555" stroke-width="0.8" />
<line x1="392.9" y1="336.82" x2="394.4" y2="336.82" stroke="#555" stroke-width="0.8" />
<line x1="392.9" y1="323.88" x2="394.4" y2="323.88" stroke="#555" stroke-width="0.8" />
<line x1="392.9" y1="310.92" x2="394.4" y2="310.92" stroke="#555" stroke-width="0.8" />
<text x="468" y="298.3" font-size="5.75" font-family="'Liberation Sans', Arial, sans-serif" fill="#222" stroke="#222" stroke-width="0.13" text-anchor="middle" >TE/TM Band Structure</text>
<text x="0" y="0" font-size="5.4" font-family="'Liberation Sans', Arial, sans-serif" fill="#2a2a2a" stroke="#2a2a2a" stroke-width="0.12" text-anchor="middle" transform="translate(377.4,364.0) rotate(-90)">Frequency (ωa/2πc=a/λ)</text>
<text x="394.4" y="437.1" font-size="6.8" font-family="'Liberation Sans', Arial, sans-serif" fill="#333" stroke="#333" stroke-width="0.15" text-anchor="middle" >Γ</text>
<text x="448.3" y="437.1" font-size="6.8" font-family="'Liberation Sans', Arial, sans-serif" fill="#333" stroke="#333" stroke-width="0.15" text-anchor="middle" >M</text>
<text x="479.3" y="437.1" font-size="6.8" font-family="'Liberation Sans', Arial, sans-serif" fill="#333" stroke="#333" stroke-width="0.15" text-anchor="middle" >K</text>
<text x="541.5" y="437.1" font-size="6.8" font-family="'Liberation Sans', Arial, sans-serif" fill="#333" stroke="#333" stroke-width="0.15" text-anchor="middle" >Γ</text>
<text x="544.5" y="308.5" font-size="4.9" font-family="'Liberation Sans', Arial, sans-serif" fill="#6a6a6a" stroke="#6a6a6a" stroke-width="0.05" text-anchor="start" >TE</text>
<text x="544.5" y="319.9" font-size="4.9" font-family="'Liberation Sans', Arial, sans-serif" fill="#6a6a6a" stroke="#6a6a6a" stroke-width="0.05" text-anchor="start" >TM</text>
<circle cx="546.8" cy="310.8" r="1.25" fill="#2020ff"/>
<circle cx="546.8" cy="322.5" r="1.25" fill="#ff2020"/>
<line x1="549" y1="310.8" x2="554.5" y2="310.8" stroke="#c8c8ff" stroke-width="0.8" />
<line x1="549" y1="322.5" x2="554.5" y2="322.5" stroke="#ffc8c8" stroke-width="0.8" />
<line x1="576.8" y1="270.9" x2="576.8" y2="521.8" stroke="#ff4444" stroke-width="1.55" stroke-dasharray="7 5.65" stroke-dashoffset="-2.4"/>
<path d="M550.9 481.8h4.8v4.8h-4.8zM551.8 473.5h4.8v4.8h-4.8zM553 465h4.8v4.8h-4.8zM554.1 456.6h4.8v4.8h-4.8zM555.4 448.5h4.8v4.8h-4.8zM556.2 439.8h4.8v4.8h-4.8zM557.5 430.9h4.8v4.8h-4.8zM558.5 422.4h4.8v4.8h-4.8zM559.8 413.2h4.8v4.8h-4.8zM561 403.4h4.8v4.8h-4.8zM561.9 393.9h4.8v4.8h-4.8zM563.1 384h4.8v4.8h-4.8zM564.1 375.3h4.8v4.8h-4.8zM565.4 365.8h4.8v4.8h-4.8zM566.5 357.4h4.8v4.8h-4.8zM567.7 347.7h4.8v4.8h-4.8zM568.7 338.9h4.8v4.8h-4.8zM569.8 329.3h4.8v4.8h-4.8zM570.9 319.7h4.8v4.8h-4.8zM572.1 310.6h4.8v4.8h-4.8zM573 300.2h4.8v4.8h-4.8zM574.3 296.2h4.8v4.8h-4.8zM575.4 305.3h4.8v4.8h-4.8zM576.5 318.5h4.8v4.8h-4.8zM577.8 330.9h4.8v4.8h-4.8zM578.6 347.7h4.8v4.8h-4.8zM579.8 363.6h4.8v4.8h-4.8zM581.1 382.8h4.8v4.8h-4.8zM582.2 402.2h4.8v4.8h-4.8zM583.2 422.4h4.8v4.8h-4.8zM584.6 445.1h4.8v4.8h-4.8zM585.5 466.4h4.8v4.8h-4.8z" fill="#000"/>
<rect x="365.9" y="270.9" width="312.7" height="250.9" fill="none" stroke="#3a3a3a" stroke-width="1.5"/>
<text x="360.7" y="525.2" font-size="10" font-family="'Liberation Serif', 'Times New Roman', serif" fill="#222" stroke="#222" stroke-width="0.22" text-anchor="end" >0</text>
<line x1="365.9" y1="485.94" x2="370.4" y2="485.94" stroke="#3a3a3a" stroke-width="1.4" />
<text x="360.7" y="489.34" font-size="10" font-family="'Liberation Serif', 'Times New Roman', serif" fill="#222" stroke="#222" stroke-width="0.22" text-anchor="end" >2</text>
<line x1="365.9" y1="450.08" x2="370.4" y2="450.08" stroke="#3a3a3a" stroke-width="1.4" />
<text x="360.7" y="453.48" font-size="10" font-family="'Liberation Serif', 'Times New Roman', serif" fill="#222" stroke="#222" stroke-width="0.22" text-anchor="end" >4</text>
<line x1="365.9" y1="414.22" x2="370.4" y2="414.22" stroke="#3a3a3a" stroke-width="1.4" />
<text x="360.7" y="417.62" font-size="10" font-family="'Liberation Serif', 'Times New Roman', serif" fill="#222" stroke="#222" stroke-width="0.22" text-anchor="end" >6</text>
<line x1="365.9" y1="378.36" x2="370.4" y2="378.36" stroke="#3a3a3a" stroke-width="1.4" />
<text x="360.7" y="381.76" font-size="10" font-family="'Liberation Serif', 'Times New Roman', serif" fill="#222" stroke="#222" stroke-width="0.22" text-anchor="end" >8</text>
<line x1="365.9" y1="342.5" x2="370.4" y2="342.5" stroke="#3a3a3a" stroke-width="1.4" />
<text x="360.7" y="345.9" font-size="10" font-family="'Liberation Serif', 'Times New Roman', serif" fill="#222" stroke="#222" stroke-width="0.22" text-anchor="end" >10</text>
<line x1="365.9" y1="306.64" x2="370.4" y2="306.64" stroke="#3a3a3a" stroke-width="1.4" />
<text x="360.7" y="310.04" font-size="10" font-family="'Liberation Serif', 'Times New Roman', serif" fill="#222" stroke="#222" stroke-width="0.22" text-anchor="end" >12</text>
<text x="360.7" y="274.18" font-size="10" font-family="'Liberation Serif', 'Times New Roman', serif" fill="#222" stroke="#222" stroke-width="0.22" text-anchor="end" >14</text>
<line x1="365.9" y1="503.87" x2="368.3" y2="503.87" stroke="#3a3a3a" stroke-width="1.4" />
<line x1="365.9" y1="468.01" x2="368.3" y2="468.01" stroke="#3a3a3a" stroke-width="1.4" />
<line x1="365.9" y1="432.15" x2="368.3" y2="432.15" stroke="#3a3a3a" stroke-width="1.4" />
<line x1="365.9" y1="396.29" x2="368.3" y2="396.29" stroke="#3a3a3a" stroke-width="1.4" />
<line x1="365.9" y1="360.43" x2="368.3" y2="360.43" stroke="#3a3a3a" stroke-width="1.4" />
<line x1="365.9" y1="324.57" x2="368.3" y2="324.57" stroke="#3a3a3a" stroke-width="1.4" />
<line x1="365.9" y1="288.71" x2="368.3" y2="288.71" stroke="#3a3a3a" stroke-width="1.4" />
<text x="365.9" y="535.8" font-size="10.6" font-family="'Liberation Serif', 'Times New Roman', serif" fill="#222" stroke="#222" stroke-width="0.23" text-anchor="middle" >0.0</text>
<line x1="410.57" y1="521.8" x2="410.57" y2="517.3" stroke="#3a3a3a" stroke-width="1.4" />
<text x="410.57" y="535.8" font-size="10.6" font-family="'Liberation Serif', 'Times New Roman', serif" fill="#222" stroke="#222" stroke-width="0.23" text-anchor="middle" >0.1</text>
<line x1="455.24" y1="521.8" x2="455.24" y2="517.3" stroke="#3a3a3a" stroke-width="1.4" />
<text x="455.24" y="535.8" font-size="10.6" font-family="'Liberation Serif', 'Times New Roman', serif" fill="#222" stroke="#222" stroke-width="0.23" text-anchor="middle" >0.2</text>
<line x1="499.91" y1="521.8" x2="499.91" y2="517.3" stroke="#3a3a3a" stroke-width="1.4" />
<text x="499.91" y="535.8" font-size="10.6" font-family="'Liberation Serif', 'Times New Roman', serif" fill="#222" stroke="#222" stroke-width="0.23" text-anchor="middle" >0.3</text>
<line x1="544.58" y1="521.8" x2="544.58" y2="517.3" stroke="#3a3a3a" stroke-width="1.4" />
<text x="544.58" y="535.8" font-size="10.6" font-family="'Liberation Serif', 'Times New Roman', serif" fill="#222" stroke="#222" stroke-width="0.23" text-anchor="middle" >0.4</text>
<line x1="589.25" y1="521.8" x2="589.25" y2="517.3" stroke="#3a3a3a" stroke-width="1.4" />
<text x="589.25" y="535.8" font-size="10.6" font-family="'Liberation Serif', 'Times New Roman', serif" fill="#222" stroke="#222" stroke-width="0.23" text-anchor="middle" >0.5</text>
<line x1="633.92" y1="521.8" x2="633.92" y2="517.3" stroke="#3a3a3a" stroke-width="1.4" />
<text x="633.92" y="535.8" font-size="10.6" font-family="'Liberation Serif', 'Times New Roman', serif" fill="#222" stroke="#222" stroke-width="0.23" text-anchor="middle" >0.6</text>
<text x="678.59" y="535.8" font-size="10.6" font-family="'Liberation Serif', 'Times New Roman', serif" fill="#222" stroke="#222" stroke-width="0.23" text-anchor="middle" >0.7</text>
<line x1="388.23" y1="521.8" x2="388.23" y2="519.4" stroke="#3a3a3a" stroke-width="1.4" />
<line x1="432.9" y1="521.8" x2="432.9" y2="519.4" stroke="#3a3a3a" stroke-width="1.4" />
<line x1="477.57" y1="521.8" x2="477.57" y2="519.4" stroke="#3a3a3a" stroke-width="1.4" />
<line x1="522.25" y1="521.8" x2="522.25" y2="519.4" stroke="#3a3a3a" stroke-width="1.4" />
<line x1="566.91" y1="521.8" x2="566.91" y2="519.4" stroke="#3a3a3a" stroke-width="1.4" />
<line x1="611.59" y1="521.8" x2="611.59" y2="519.4" stroke="#3a3a3a" stroke-width="1.4" />
<line x1="656.25" y1="521.8" x2="656.25" y2="519.4" stroke="#3a3a3a" stroke-width="1.4" />
<text x="575" y="532" font-size="10.6" font-family="'Liberation Serif', 'Times New Roman', serif" fill="#ff2a2a" stroke="#ff2a2a" stroke-width="0.23" text-anchor="middle" >0.47</text>
<text x="522.2" y="556.1" font-size="14" font-family="'Liberation Serif', 'Times New Roman', serif" fill="#222" stroke="#222" stroke-width="0.31" text-anchor="middle" font-style="italic">r/a</text>
<text x="0" y="0" font-size="13" font-family="'Liberation Serif', 'Times New Roman', serif" fill="#222" stroke="#222" stroke-width="0.29" text-anchor="start" transform="translate(344.8,456.1) rotate(-90)">band gap proportion/%</text>
<text x="371.4" y="288" font-size="16" font-family="'Liberation Serif', 'Times New Roman', serif" fill="#111" stroke="#111" stroke-width="0.12" text-anchor="start" >(d)</text>
<rect x="587.7" y="270.9" width="90.9" height="14.4" fill="#fff" stroke="#3a3a3a" stroke-width="1.4"/>
<rect x="593" y="275.9" width="5" height="5" fill="#000" />
<text x="603.6" y="281.5" font-size="9.7" font-family="'Liberation Serif', 'Times New Roman', serif" fill="#222" stroke="#222" stroke-width="0.21" text-anchor="start" >complete band gap</text>
</svg>
</body></html>
